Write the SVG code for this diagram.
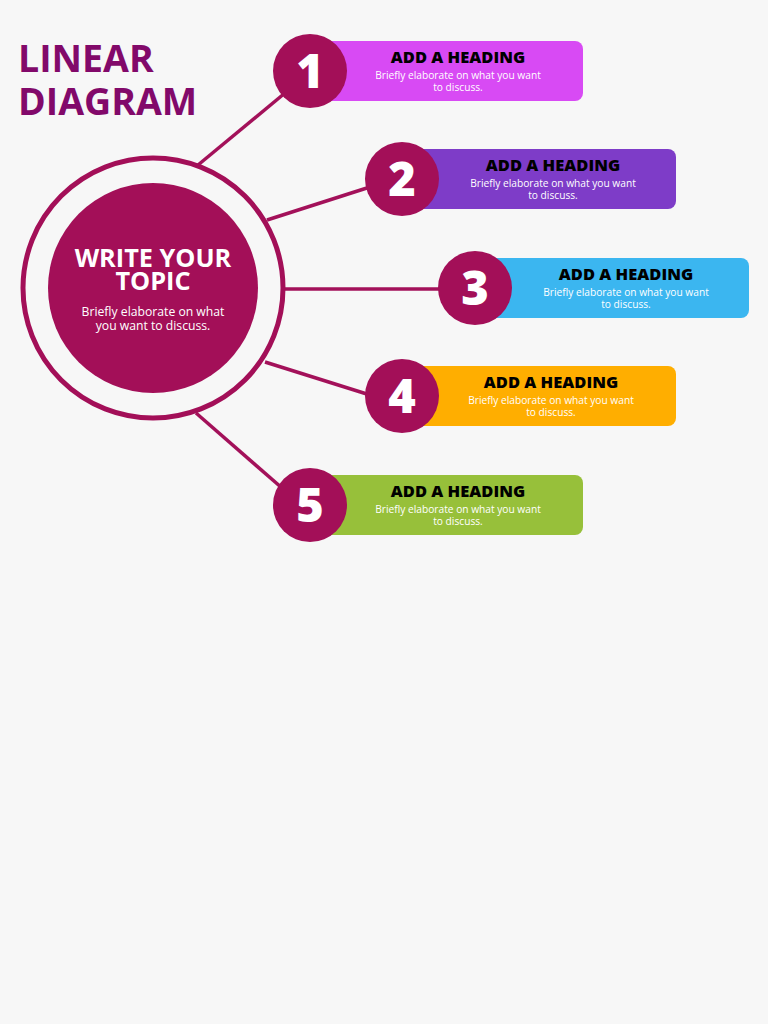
<svg xmlns="http://www.w3.org/2000/svg" width="768" height="1024" viewBox="0 0 768 1024">
<style>
.title{font-family:"Open Sans","Liberation Sans",sans-serif;font-weight:700;font-size:37.5px;fill:#82096a}
.conn line{stroke:#a3115a;stroke-width:3.5}
.num{fill:#a30f58}
.numt{font-family:"Open Sans","Liberation Sans",sans-serif;font-weight:800;font-size:47px;fill:#fff;text-anchor:middle}
.head{font-family:"Open Sans","Liberation Sans",sans-serif;font-weight:800;font-size:16.5px;fill:#000;text-anchor:middle}
.desc{font-family:"Open Sans","Liberation Sans",sans-serif;font-size:10.2px;fill:#fff;text-anchor:middle}
.ctitle{font-family:"Open Sans","Liberation Sans",sans-serif;font-weight:700;font-size:25.3px;fill:#fff;text-anchor:middle}
.cdesc{font-family:"Open Sans","Liberation Sans",sans-serif;font-size:12.2px;fill:#fff;text-anchor:middle}
</style>
<rect width="768" height="1024" fill="#f7f7f7"/>
<g id="title">
<text class="title" x="18" y="72">LINEAR</text>
<text class="title" x="18" y="115">DIAGRAM</text>
</g>
<g class="conn" id="connectors">
<line x1="198" y1="165" x2="285" y2="93"/>
<line x1="267" y1="220" x2="370" y2="187"/>
<line x1="285" y1="289" x2="442" y2="289"/>
<line x1="265" y1="362" x2="370" y2="395"/>
<line x1="196" y1="413" x2="282" y2="488"/>
</g>
<g id="center">
<circle cx="153" cy="288" r="130" fill="none" stroke="#a30f58" stroke-width="5"/>
<circle cx="153" cy="288" r="105" fill="#a30f58"/>
<text class="ctitle" x="153" y="267">WRITE YOUR</text>
<text class="ctitle" x="153" y="290">TOPIC</text>
<text class="cdesc" x="153" y="316">Briefly elaborate on what</text>
<text class="cdesc" x="153" y="330">you want to discuss.</text>
</g>
<g id="step1">
<rect x="320" y="41" width="263" height="60" rx="8" fill="#d84af4"/>
<circle class="num" cx="310" cy="71" r="37"/>
<text class="numt" x="310" y="88">1</text>
<text class="head" x="458" y="63">ADD A HEADING</text>
<text class="desc" x="458" y="79">Briefly elaborate on what you want</text>
<text class="desc" x="458" y="91">to discuss.</text>
</g>
<g id="step2">
<rect x="412" y="149" width="264" height="60" rx="8" fill="#7e3cc8"/>
<circle class="num" cx="402" cy="179" r="37"/>
<text class="numt" x="402" y="196">2</text>
<text class="head" x="553" y="171">ADD A HEADING</text>
<text class="desc" x="553" y="187">Briefly elaborate on what you want</text>
<text class="desc" x="553" y="199">to discuss.</text>
</g>
<g id="step3">
<rect x="485" y="258" width="264" height="60" rx="8" fill="#3bb6f0"/>
<circle class="num" cx="475" cy="288" r="37"/>
<text class="numt" x="475" y="305">3</text>
<text class="head" x="626" y="280">ADD A HEADING</text>
<text class="desc" x="626" y="296">Briefly elaborate on what you want</text>
<text class="desc" x="626" y="308">to discuss.</text>
</g>
<g id="step4">
<rect x="412" y="366" width="264" height="60" rx="8" fill="#ffae00"/>
<circle class="num" cx="402" cy="396" r="37"/>
<text class="numt" x="402" y="413">4</text>
<text class="head" x="551" y="388">ADD A HEADING</text>
<text class="desc" x="551" y="404">Briefly elaborate on what you want</text>
<text class="desc" x="551" y="416">to discuss.</text>
</g>
<g id="step5">
<rect x="320" y="475" width="263" height="60" rx="8" fill="#97c03a"/>
<circle class="num" cx="310" cy="505" r="37"/>
<text class="numt" x="310" y="522">5</text>
<text class="head" x="458" y="497">ADD A HEADING</text>
<text class="desc" x="458" y="513">Briefly elaborate on what you want</text>
<text class="desc" x="458" y="525">to discuss.</text>
</g>
</svg>
